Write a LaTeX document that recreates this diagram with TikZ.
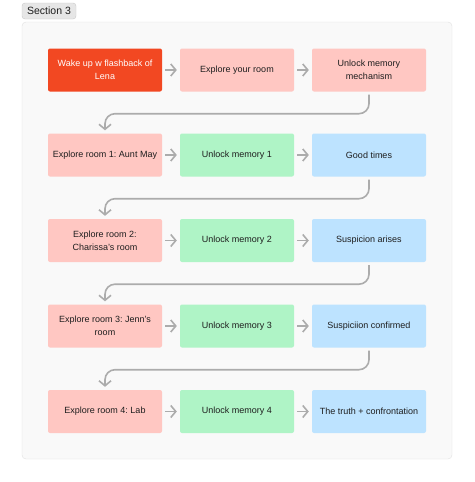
\documentclass[tikz,border=0pt]{standalone}
\usepackage{fontspec}
\setmainfont{Liberation Sans}
\usetikzlibrary{arrows.meta,positioning}
\definecolor{stred}{RGB}{242, 72, 34}
\definecolor{stpink}{RGB}{255, 199, 194}
\definecolor{stgreen}{RGB}{175, 244, 198}
\definecolor{stblue}{RGB}{189, 227, 255}
\definecolor{stgray}{RGB}{172, 172, 172}
\definecolor{sttext}{RGB}{30, 30, 30}
\frenchspacing

\begin{document}
\begin{tikzpicture}[x=1pt, y=-1pt,
  stepbox/.style={rectangle, rounded corners=2pt, minimum width=114pt, minimum height=43pt,
    text width=106pt, align=flush center, font=\fontsize{9}{13}\selectfont, text=sttext, inner sep=0pt},
  flowarr/.style={stgray, line width=1.6pt, -{Straight Barb[length=5pt, width=12pt, line width=1.6pt]},
    shorten <=3pt, shorten >=3pt},
  turnarr/.style={flowarr, rounded corners=10pt}]
\useasboundingbox (0,0) rectangle (474,482);
% Section frame and tab
\draw[fill={rgb,255:red,249;green,249;blue,249}, draw={rgb,255:red,224;green,224;blue,224}, rounded corners=4pt]
  (22,22) rectangle (452,459);
\node[draw={rgb,255:red,200;green,200;blue,200}, fill={rgb,255:red,230;green,230;blue,230}, rounded corners=3pt,
  minimum width=54pt, minimum height=16pt, inner sep=0pt, font=\fontsize{10.5}{12}\selectfont, text=sttext]
  (tab) at (49,11) {Section 3};
% Row 1
\node[stepbox, fill=stred, text=white] (wake) at (105,70) {Wake up w flashback of Lena};
\node[stepbox, fill=stpink] (room) at (237,70) {Explore your room};
\node[stepbox, fill=stpink] (mech) at (369,70) {Unlock memory mechanism};
% Row 2
\node[stepbox, fill=stpink] (may) at (105,155) {Explore room 1: Aunt May};
\node[stepbox, fill=stgreen] (mem1) at (237,155) {Unlock memory 1};
\node[stepbox, fill=stblue] (good) at (369,155) {Good times};
% Row 3
\node[stepbox, fill=stpink] (cha) at (105,240.5) {Explore room 2: Charissa’s room};
\node[stepbox, fill=stgreen] (mem2) at (237,240.5) {Unlock memory 2};
\node[stepbox, fill=stblue] (susp) at (369,240.5) {Suspicion arises};
% Row 4
\node[stepbox, fill=stpink] (jenn) at (105,326) {Explore room 3: Jenn’s room};
\node[stepbox, fill=stgreen] (mem3) at (237,326) {Unlock memory 3};
\node[stepbox, fill=stblue] (conf) at (369,326) {Suspiciion confirmed};
% Row 5
\node[stepbox, fill=stpink] (lab) at (105,411.5) {Explore room 4: Lab};
\node[stepbox, fill=stgreen] (mem4) at (237,411.5) {Unlock memory 4};
\node[stepbox, fill=stblue] (truth) at (369,411.5) {The truth + confrontation};
% Arrows along rows
\foreach \a/\b in {wake/room, room/mech, may/mem1, mem1/good, cha/mem2, mem2/susp,
  jenn/mem3, mem3/conf, lab/mem4, mem4/truth}
  \draw[flowarr] (\a) -- (\b);
% Arrows between rows
\foreach \a/\b in {mech/may, good/cha, susp/jenn, conf/lab}
  \draw[turnarr] (\a.south) -- ++(0,22) -| (\b.north);
\end{tikzpicture}
\end{document}
